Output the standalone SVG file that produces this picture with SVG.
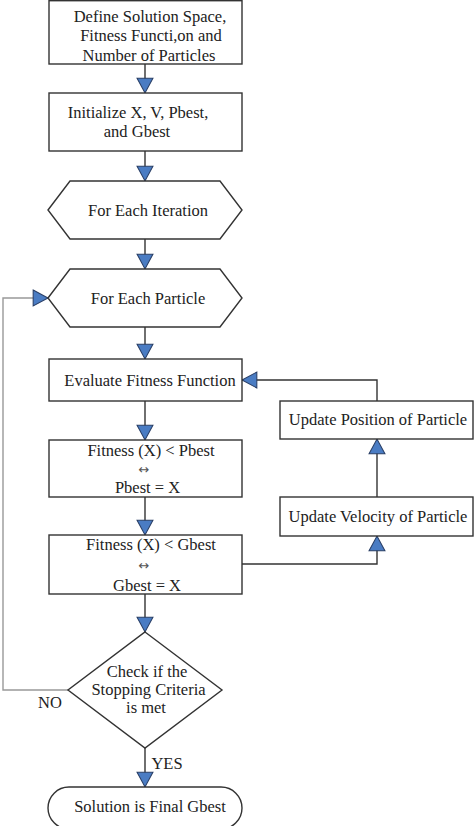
<svg xmlns="http://www.w3.org/2000/svg" width="474" height="826" viewBox="0 0 474 826">
<defs>
<style>
.box{fill:#fff;stroke:#333;stroke-width:1.4}
.ln{fill:none;stroke:#333;stroke-width:1.4}
.gray{fill:none;stroke:#999;stroke-width:1.4}
.dbl{font-family:'DejaVu Sans',sans-serif;font-size:13px;fill:#555}
</style>
<marker id="arr" markerUnits="userSpaceOnUse" markerWidth="18" markerHeight="18" refX="14" refY="7.5" orient="auto" viewBox="-1 -1 17 17">
<path d="M0,0 L14,7.5 L0,15 Z" fill="#4a7cc3" stroke="#2a3f66" stroke-width="1"/>
</marker>
</defs>
<rect width="474" height="826" fill="#fff"/>
<g font-family="'Liberation Serif', 'Times New Roman', 'DejaVu Serif', serif" font-size="16.5" fill="#222" text-anchor="middle">
<g id="connectors">
<path class="ln" d="M145,64 V93" marker-end="url(#arr)"/>
<path class="ln" d="M145,151 V181" marker-end="url(#arr)"/>
<path class="ln" d="M145,239 V269" marker-end="url(#arr)"/>
<path class="ln" d="M145,327 V359" marker-end="url(#arr)"/>
<path class="ln" d="M145,401 V440" marker-end="url(#arr)"/>
<path class="ln" d="M145,497 V535" marker-end="url(#arr)"/>
<path class="ln" d="M145,594 V632" marker-end="url(#arr)"/>
<path class="ln" d="M145,748 V787" marker-end="url(#arr)"/>
<path class="gray" d="M68,690 H3 V298 H48" marker-end="url(#arr)"/>
<path class="ln" d="M242,564 H377 V536" marker-end="url(#arr)"/>
<path class="ln" d="M377,497 V439" marker-end="url(#arr)"/>
<path class="ln" d="M377,401 V380 H242" marker-end="url(#arr)"/>
<text x="50" y="708">NO</text>
<text x="167" y="769">YES</text>
</g>
<g id="n_define">
<rect class="box" x="49" y="0.7" width="193" height="63.3"/>
<text x="150" y="22">Define Solution Space,</text>
<text x="151" y="41">Fitness Functi,on and</text>
<text x="149" y="61">Number of Particles</text>
</g>
<g id="n_init">
<rect class="box" x="49" y="93" width="193" height="58"/>
<text x="138" y="118">Initialize X, V, Pbest,</text>
<text x="137" y="137">and Gbest</text>
</g>
<g id="n_iter">
<polygon class="box" points="48,210 70,181 220,181 242,210 220,239 70,239"/>
<text x="148" y="216">For Each Iteration</text>
</g>
<g id="n_particle">
<polygon class="box" points="48,298 70,269 220,269 242,298 220,327 70,327"/>
<text x="148" y="304">For Each Particle</text>
</g>
<g id="n_eval">
<rect class="box" x="49" y="359" width="193" height="42"/>
<text x="150" y="385.5">Evaluate Fitness Function</text>
</g>
<g id="n_pbest">
<rect class="box" x="49" y="440" width="193" height="57"/>
<text x="151" y="456">Fitness (X) &lt; Pbest</text>
<text class="dbl" x="144" y="474">↔</text>
<text x="147.5" y="493">Pbest = X</text>
</g>
<g id="n_gbest">
<rect class="box" x="49" y="535" width="193" height="59"/>
<text x="151" y="550">Fitness (X) &lt; Gbest</text>
<text class="dbl" x="144" y="570">↔</text>
<text x="147" y="591">Gbest = X</text>
</g>
<g id="n_check">
<polygon class="box" points="145,632 222,690 145,748 68,690"/>
<text x="147" y="677">Check if the</text>
<text x="148.5" y="695">Stopping Criteria</text>
<text x="146" y="713">is met</text>
</g>
<g id="n_final">
<rect class="box" x="48" y="787" width="194" height="42" rx="21" ry="21"/>
<text x="150" y="812">Solution is Final Gbest</text>
</g>
<g id="n_pos">
<rect class="box" x="280" y="401" width="193" height="38"/>
<text x="378" y="425">Update Position of Particle</text>
</g>
<g id="n_vel">
<rect class="box" x="280" y="497" width="193" height="39"/>
<text x="378" y="522">Update Velocity of Particle</text>
</g>
</g>
</svg>
